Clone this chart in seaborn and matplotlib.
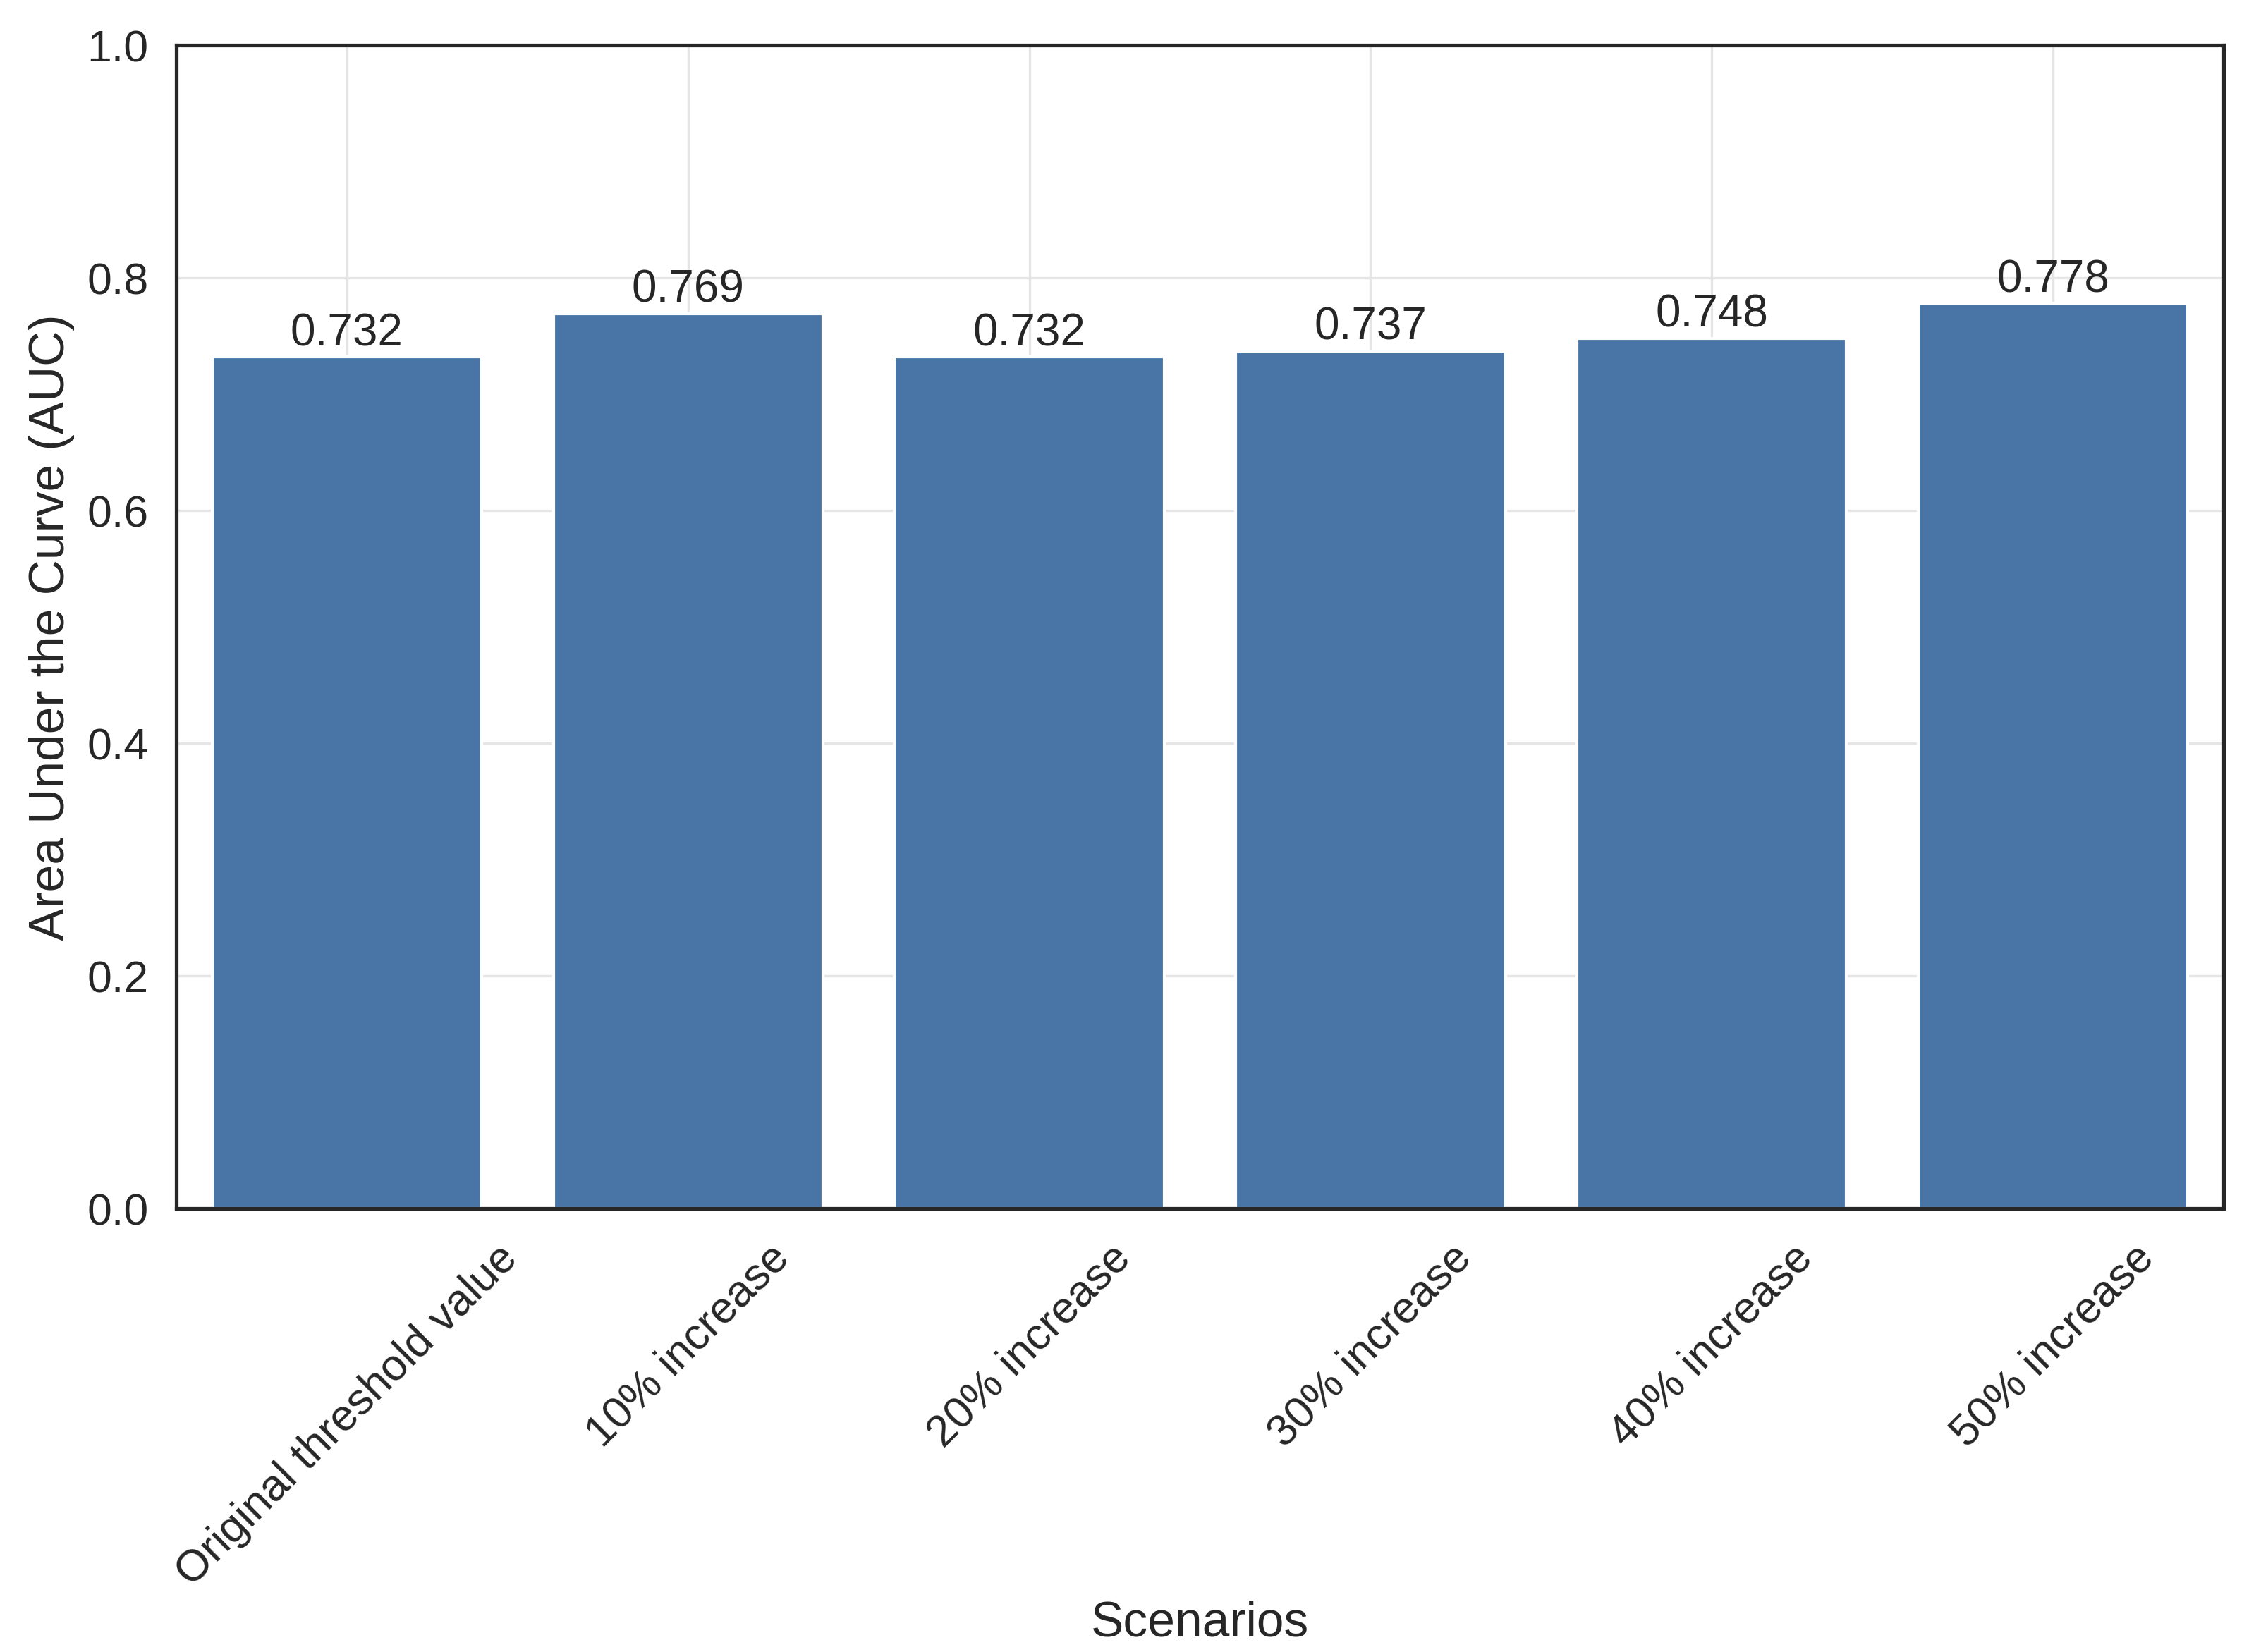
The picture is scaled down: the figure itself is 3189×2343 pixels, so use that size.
import matplotlib
matplotlib.use("Agg")
import matplotlib.pyplot as plt
import seaborn as sns
import pandas as pd

scenarios = ["Original threshold value", "10% increase", "20% increase",
             "30% increase", "40% increase", "50% increase"]
auc = [0.732, 0.769, 0.732, 0.737, 0.748, 0.778]

sns.set_theme(style="whitegrid")
plt.rcParams['font.family'] = ['Liberation Sans', 'DejaVu Sans']
plt.rcParams['axes.edgecolor'] = '#262626'

df = pd.DataFrame({"Scenario": scenarios, "AUC": auc})

fig = plt.figure(figsize=(10.63, 7.813), dpi=300)
ax = fig.add_axes([250/3189, 1-1715/2344, (3153-250)/3189, (1715-65)/2344])
sns.barplot(data=df, x="Scenario", y="AUC", color="#4875A6", saturation=1,
            width=0.79, ax=ax)
ax.set_ylim(0, 1.0)
ax.set_xlim(-0.5, 5.5)
for c in ax.containers:
    ax.bar_label(c, fmt="%.3f", fontsize=15.3, padding=1, color="#262626")
ax.set_xlabel("Scenarios", fontsize=16.7, labelpad=2, color="#262626")
ax.set_ylabel("Area Under the Curve (AUC)", fontsize=16.7, color="#262626")
ax.tick_params(axis='both', labelsize=15, colors="#262626")
plt.setp(ax.get_xticklabels(), rotation=45)
for s in ax.spines.values():
    s.set_visible(True)
    s.set_color('#262626')
    s.set_linewidth(1.25)
ax.grid(True, color='#e5e5e5', linewidth=0.8)
ax.set_axisbelow(True)
fig.savefig("out.png", dpi=300)
